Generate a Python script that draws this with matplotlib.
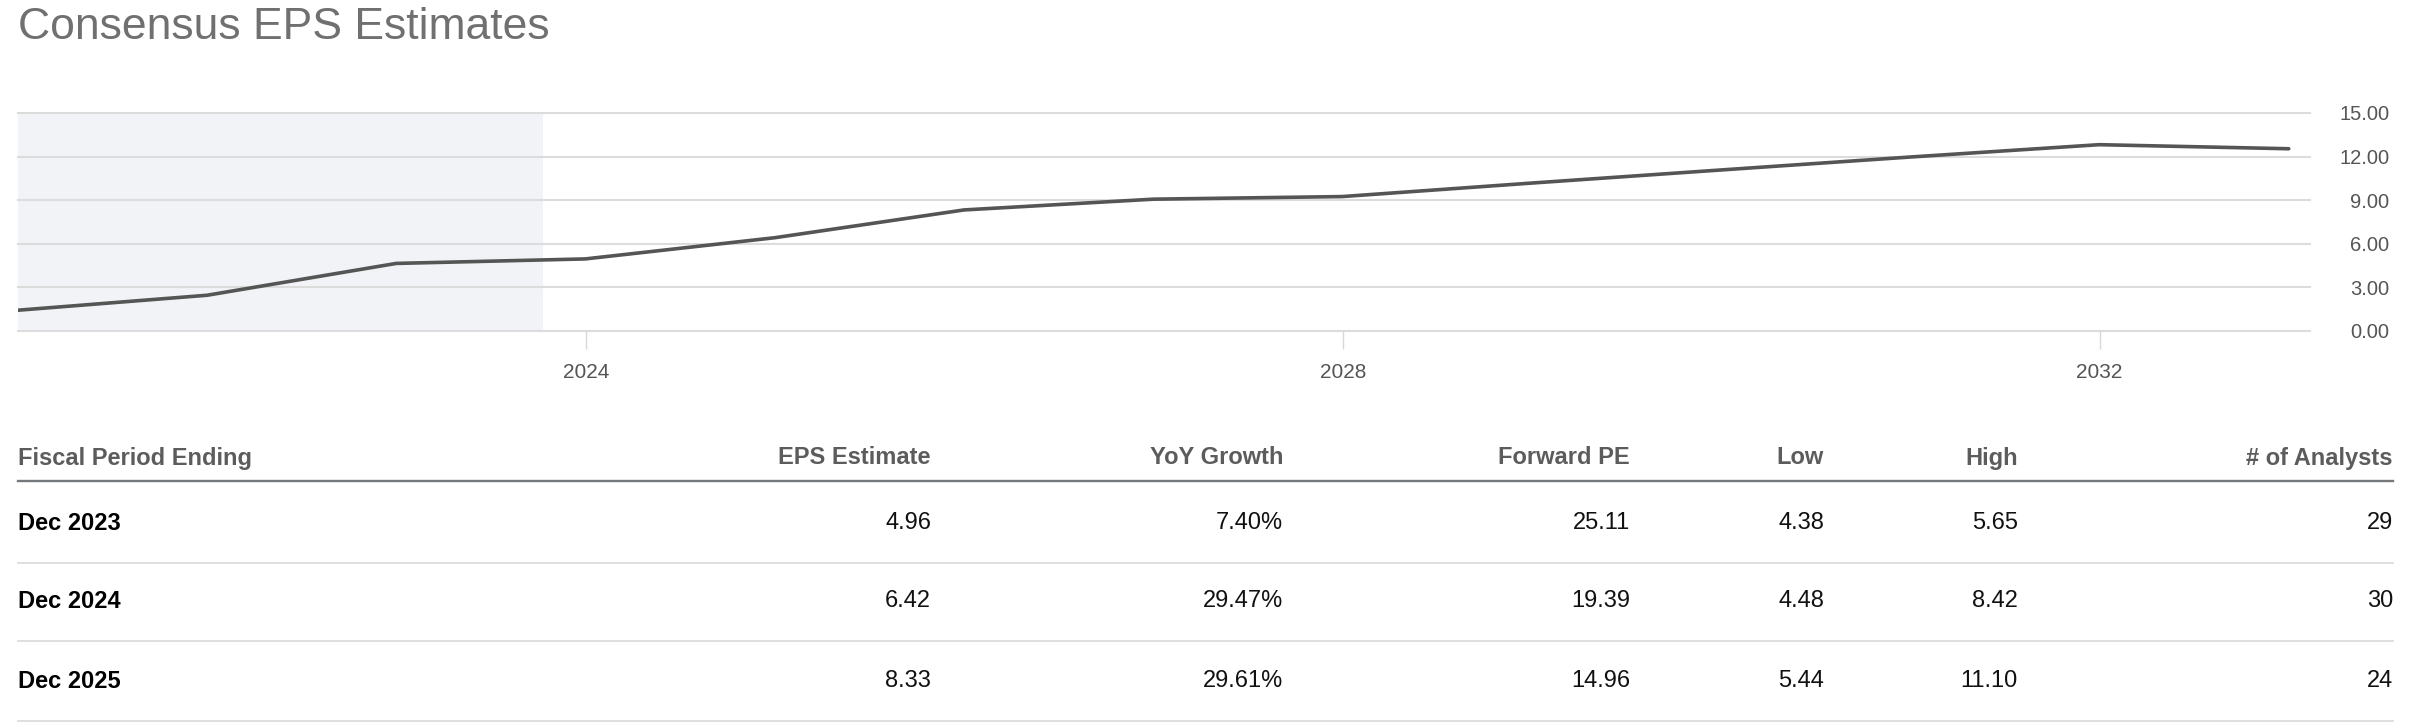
import pandas as pd
import matplotlib.pyplot as plt
import matplotlib.dates as mdates

plt.rcParams['font.family'] = ['Liberation Sans', 'DejaVu Sans']

# EPS line (fiscal year ending Dec)
periods = pd.to_datetime(['2020-12-31', '2021-12-31', '2022-12-31', '2023-12-31',
                          '2024-12-31', '2025-12-31', '2026-12-31', '2027-12-31',
                          '2028-12-31', '2029-12-31', '2030-12-31', '2031-12-31',
                          '2032-12-31'])
eps = [1.43, 2.46, 4.65, 4.96, 6.42, 8.33, 9.07, 9.25, 10.18, 11.08, 11.97, 12.82, 12.54]
today = pd.Timestamp('2023-10-10')
yticks = [0, 3, 6, 9, 12, 15]
xticks = pd.to_datetime(['2024-01-01', '2028-01-01', '2032-01-01'])

# table
columns = ['Fiscal Period Ending', 'EPS Estimate', 'YoY Growth', 'Forward PE',
           'Low', 'High', '# of Analysts']
row_labels = ['Dec 2023', 'Dec 2024', 'Dec 2025']
eps_est = ['4.96', '6.42', '8.33']
yoy = ['7.40%', '29.47%', '29.61%']
fwd_pe = ['25.11', '19.39', '14.96']
low = ['4.38', '4.48', '5.44']
high = ['5.65', '8.42', '11.10']
analysts = ['29', '30', '24']

W, H = 2412, 728
fig = plt.figure(figsize=(W / 100, H / 100), dpi=100)

fig.text(18 / W, 1 - 7 / H, 'Consensus EPS Estimates', va='top', ha='left',
         fontsize=32, color='#707070')

ax = fig.add_axes([18 / W, 1 - 331 / H, (2310 - 18) / W, (331 - 113) / H])
ax.axvspan(periods[0], today, color='#f2f3f7', lw=0, zorder=0)
ax.plot(periods, eps, color='#555555', lw=2.6, solid_capstyle='round', zorder=3)
ax.set_xlim(periods[0], pd.Timestamp('2033-02-10'))
ax.set_ylim(0, 15)
for y in yticks:
    ax.axhline(y, color='#dcdcdc', lw=1.5, zorder=1, clip_on=False)
for s in ax.spines.values():
    s.set_visible(False)
ax.yaxis.tick_right()
ax.set_yticks(yticks)
ax.set_yticklabels([f'{v:.2f}' for v in yticks])
for t in ax.get_yticklabels():
    t.set_horizontalalignment('right')
ax.tick_params(axis='y', length=0, pad=57, labelsize=14.5, labelcolor='#555555')
ax.set_xticks(xticks)
ax.xaxis.set_major_formatter(mdates.DateFormatter('%Y'))
ax.tick_params(axis='x', length=13, width=1, color='#d8d8d8', pad=10,
               labelsize=15, labelcolor='#555555')

# table drawn in pixel space
tab = fig.add_axes([0, 0, 1, 1])
tab.set_xlim(0, W)
tab.set_ylim(H, 0)
tab.axis('off')
col_x = [18, 931, 1283, 1630, 1824, 2018, 2393]
header_y = 458
row_y = [523, 601, 681]
for i, name in enumerate(columns):
    tab.text(col_x[i], header_y, name, ha='left' if i == 0 else 'right', va='center',
             fontsize=17, fontweight='bold', color='#5c5c5c')
tab.plot([18, 2393], [481, 481], color='#76797c', lw=1.7)
values = [eps_est, yoy, fwd_pe, low, high, analysts]
for r, lab in enumerate(row_labels):
    tab.text(col_x[0], row_y[r], lab, ha='left', va='center', fontsize=17,
             fontweight='bold', color='#000000')
    for c, col in enumerate(values):
        tab.text(col_x[c + 1], row_y[r], col[r], ha='right', va='center',
                 fontsize=17, color='#111111')
    line_y = row_y[r] + 40
    tab.plot([18, 2393], [line_y, line_y], color='#dcdcdc', lw=1.3)

fig.savefig('out.png', dpi=100)
